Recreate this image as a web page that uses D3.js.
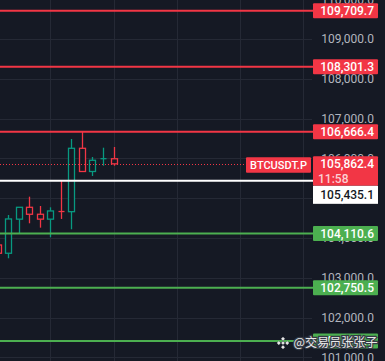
<!DOCTYPE html>
<html><head><meta charset="utf-8">
<script src="https://cdn.jsdelivr.net/npm/d3@7"></script>
<style>html,body{margin:0;padding:0;background:#151924;overflow:hidden}</style>
</head><body>
<script>
// ---- data ----
const candleIdx = [0,1,2,3,4,5,6,7,8,9,10,11];
const opens  = [103823,103615,104472,104770,104595,104472,104678,104660,106253,105670,105984,105990];
const highs  = [103900,104577,104770,105037,104803,104770,105432,106487,106666.4,106035,106268,106286];
const lows   = [103560,103489,104117,104368,104258,104017,104477,104218,105665,105557,105816,105816];
const closes = [103615,104477,104770,104595,104472,104678,104650,106253,105670,105952,106000,105862.4];
const tickValues = [101000,102000,103000,104000,105000,106000,107000,108000,109000,110000];
const redLevels = [109709.7,108301.3,106666.4];
const greenLevels = [104110.6,102750.5,101412.7];
const whiteLevel = 105435.1;
const lastPrice = 105862.4;
const symbol = "BTCUSDT.P";
const countdown = "11:58";
const watermark = "@交易员张张子";

const W=385,H=361;
const fmt = d3.format(",.1f");
const svg = d3.select("body").append("svg").attr("width",W).attr("height",H)
  .style("font-family","Roboto, 'Liberation Sans', sans-serif");
svg.append("rect").attr("width",W).attr("height",H).attr("fill","#151924");

const y = d3.scaleLinear().domain([101000,109000]).range([357.3,39]);
const x = d3.scaleLinear().domain([0,1]).range([-2.2,8.32]);
const paneW = 312;
const RED="#f23645", GREEN="#4caf50", CUP="#089981";

// grid
const vIdx = [5,11,17,23,29];
svg.append("g").selectAll("line").data(vIdx).join("line")
  .attr("x1",d=>Math.round(x(d))+0.5).attr("x2",d=>Math.round(x(d))+0.5)
  .attr("y1",0).attr("y2",H).attr("stroke","#252935").attr("stroke-width",1);
svg.append("g").selectAll("line").data(tickValues).join("line")
  .attr("x1",0).attr("x2",paneW)
  .attr("y1",d=>Math.round(y(d))+0.5).attr("y2",d=>Math.round(y(d))+0.5)
  .attr("stroke","#252935").attr("stroke-width",1);

// tick labels
svg.append("g").selectAll("text").data(tickValues).join("text")
  .attr("x",374).attr("y",d=>y(d)).attr("dy","0.36em")
  .attr("text-anchor","end").attr("font-size",12).attr("fill","#b2b5be")
  .text(d=>fmt(d));

// candles
const cg = svg.append("g");
candleIdx.forEach(i=>{
  const up = closes[i] >= opens[i];
  const col = up ? CUP : RED;
  const cx = Math.round(x(i))+0.5;
  const top = y(Math.max(opens[i],closes[i])), bot = y(Math.min(opens[i],closes[i]));
  cg.append("line").attr("x1",cx).attr("x2",cx).attr("y1",y(highs[i])).attr("y2",top)
    .attr("stroke",col).attr("stroke-width",1.3);
  cg.append("line").attr("x1",cx).attr("x2",cx).attr("y1",bot).attr("y2",y(lows[i]))
    .attr("stroke",col).attr("stroke-width",1.3);
  if (bot-top < 1.2) {
    cg.append("line").attr("x1",cx-3).attr("x2",cx+3).attr("y1",(top+bot)/2).attr("y2",(top+bot)/2)
      .attr("stroke",col).attr("stroke-width",1.3);
  } else {
    cg.append("rect").attr("x",cx-3).attr("y",top).attr("width",6).attr("height",bot-top)
      .attr("fill","#151924").attr("stroke",col).attr("stroke-width",1.3);
  }
});

// level lines
const levels = [
  ...redLevels.map(v=>({v,c:RED,t:"#ffffff"})),
  ...greenLevels.map(v=>({v,c:GREEN,t:"#ffffff"}))
];
svg.append("g").selectAll("line").data(levels).join("line")
  .attr("x1",0).attr("x2",313).attr("y1",d=>y(d.v)).attr("y2",d=>y(d.v))
  .attr("stroke",d=>d.c).attr("stroke-width",2);
svg.append("line").attr("x1",0).attr("x2",313).attr("y1",y(whiteLevel)).attr("y2",y(whiteLevel))
  .attr("stroke","#ffffff").attr("stroke-width",2);
svg.append("line").attr("x1",0).attr("x2",246).attr("y1",Math.round(y(lastPrice))+0.5).attr("y2",Math.round(y(lastPrice))+0.5)
  .attr("stroke",RED).attr("stroke-width",1).attr("stroke-dasharray","1,2");

// level labels
const lg = svg.append("g");
levels.forEach(d=>{
  const cy=y(d.v);
  lg.append("rect").attr("x",313).attr("y",cy-7.5).attr("width",65).attr("height",15).attr("rx",1).attr("fill",d.c);
  lg.append("text").attr("x",374).attr("y",cy).attr("dy","0.36em").attr("text-anchor","end")
    .attr("font-size",12).attr("font-weight",500).attr("fill",d.t).text(fmt(d.v));
});
// current price label
const cp = y(lastPrice);
lg.append("rect").attr("x",313).attr("y",cp-7.5).attr("width",65).attr("height",29.5).attr("rx",1).attr("fill",RED);
lg.append("text").attr("x",374).attr("y",cp).attr("dy","0.36em").attr("text-anchor","end")
  .attr("font-size",12).attr("font-weight",500).attr("fill","#ffffff").text(fmt(lastPrice));
lg.append("text").attr("x",318).attr("y",cp+15).attr("dy","0.36em").attr("text-anchor","start")
  .attr("font-size",12).attr("font-weight",500).attr("fill","#fbd0d4").text(countdown);
// white label (pushed below)
lg.append("rect").attr("x",313).attr("y",cp+22).attr("width",65).attr("height",18).attr("fill","#ffffff");
lg.append("text").attr("x",374).attr("y",cp+31).attr("dy","0.36em").attr("text-anchor","end")
  .attr("font-size",12).attr("font-weight",500).attr("fill","#131722").text(fmt(whiteLevel));
// symbol label
lg.append("rect").attr("x",246).attr("y",cp-6.5).attr("width",65).attr("height",15.5).attr("rx",1).attr("fill",RED);
lg.append("text").attr("x",278.5).attr("y",cp+1.2).attr("dy","0.36em").attr("text-anchor","middle")
  .attr("font-size",11).attr("font-weight",500).attr("fill","#ffffff").text(symbol);

// watermark
const wm = svg.append("g").attr("transform","translate(283,343)");
const dia = s => `M0,${-s} L${s},0 L0,${s} L${-s},0 Z`;
[[0,-4.2],[4.2,0],[0,4.2],[-4.2,0],[0,0]].forEach(([dx,dy])=>{
  wm.append("path").attr("d",dia(dx===0&&dy===0?1.8:1.9)).attr("transform",`translate(${dx},${dy})`)
    .attr("fill","#e6e6e6").attr("stroke","#333842").attr("stroke-width",0.8).attr("paint-order","stroke");
});
wm.append("text").attr("x",10.5).attr("y",-0.5).attr("dy","0.36em")
  .attr("font-family","'Noto Sans CJK SC', sans-serif").attr("font-size",12.5)
  .attr("textLength",84).attr("lengthAdjust","spacingAndGlyphs")
  .attr("fill","#e8e8e8").attr("stroke","#343945").attr("stroke-width",2.5).attr("paint-order","stroke")
  .text(watermark);
</script>
</body></html>
